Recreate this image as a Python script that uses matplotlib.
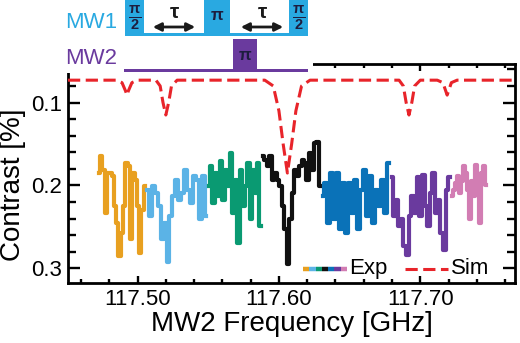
import numpy as np
import matplotlib
matplotlib.use("Agg")
import matplotlib.pyplot as plt
from matplotlib.patches import Rectangle, FancyArrowPatch

plt.rcParams['font.family'] = ['Liberation Sans', 'DejaVu Sans']
plt.rcParams['mathtext.fontset'] = 'custom'
plt.rcParams['mathtext.rm'] = 'Liberation Sans:bold'
plt.rcParams['mathtext.it'] = 'Liberation Sans:bold'

# ---------------- data ----------------
seg_colors = ['#E8A020', '#5BB3E6', '#0A9A72', '#111111', '#0A72B8', '#6A3A9E', '#D27DB3']
seg_edges = [117.4718, 117.5060, 117.5495, 117.5880, 117.6300, 117.6788, 117.7216, 117.7473]
exp_orange = [0.185, 0.165, 0.181, 0.233, 0.185, 0.185, 0.189, 0.225, 0.245, 0.285, 0.257,
              0.225, 0.173, 0.177, 0.265, 0.185, 0.193, 0.225, 0.282, 0.229, 0.201]
exp_sky = [0.205, 0.237, 0.201, 0.209, 0.225, 0.265, 0.245, 0.292, 0.237, 0.213, 0.193,
           0.217, 0.209, 0.181, 0.205, 0.221, 0.189, 0.193, 0.240, 0.189, 0.237]
exp_green = [0.201, 0.177, 0.221, 0.185, 0.213, 0.171, 0.217, 0.181, 0.201, 0.161, 0.233,
             0.193, 0.269, 0.181, 0.225, 0.201, 0.173, 0.241, 0.181, 0.209, 0.173, 0.249]
exp_black = [0.165, 0.169, 0.177, 0.165, 0.193, 0.185, 0.193, 0.201, 0.225, 0.253, 0.295,
             0.241, 0.209, 0.181, 0.189, 0.177, 0.169, 0.173, 0.193, 0.161, 0.181, 0.149,
             0.147, 0.201]
exp_blue = [0.213, 0.197, 0.245, 0.185, 0.241, 0.185, 0.253, 0.197, 0.257, 0.197, 0.233,
            0.193, 0.253, 0.205, 0.181, 0.237, 0.189, 0.245, 0.205, 0.225, 0.193, 0.233, 0.173]
exp_purple = [0.190, 0.237, 0.217, 0.249, 0.241, 0.273, 0.284, 0.237, 0.213, 0.233, 0.190,
              0.237, 0.187, 0.225, 0.249, 0.209, 0.185, 0.233, 0.217, 0.257, 0.278, 0.205, 0.190]
exp_pink = [0.213, 0.205, 0.197, 0.189, 0.209, 0.195, 0.177, 0.185, 0.205, 0.241, 0.195,
            0.213, 0.175, 0.197, 0.245, 0.185, 0.177, 0.199]
exp_segments = [exp_orange, exp_sky, exp_green, exp_black, exp_blue, exp_purple, exp_pink]

sim_freq = [117.4508, 117.485, 117.489, 117.4915, 117.4925, 117.4935, 117.496, 117.500,
            117.513, 117.516, 117.518, 117.520, 117.522, 117.524, 117.528,
            117.590, 117.596, 117.600, 117.603, 117.606, 117.609, 117.612, 117.616, 117.622,
            117.685, 117.688, 117.690, 117.692, 117.694, 117.696, 117.700,
            117.712, 117.716, 117.718, 117.719, 117.720, 117.722, 117.726, 117.767]
sim_contrast = [0.073, 0.073, 0.076, 0.086, 0.091, 0.086, 0.076, 0.073,
                0.073, 0.080, 0.100, 0.115, 0.100, 0.080, 0.073,
                0.073, 0.080, 0.110, 0.150, 0.185, 0.150, 0.110, 0.080, 0.073,
                0.073, 0.080, 0.100, 0.115, 0.100, 0.080, 0.073,
                0.073, 0.076, 0.086, 0.091, 0.086, 0.076, 0.073, 0.073]

xticks = [117.50, 117.60, 117.70]
xticklabels = ['117.50', '117.60', '117.70']
yticks = [0.1, 0.2, 0.3]
yticklabels = ['0.1', '0.2', '0.3']

# ---------------- figure ----------------
W, H = 520, 343
fig = plt.figure(figsize=(W / 100, H / 100), dpi=100)
ax = fig.add_axes([68 / W, 1 - 283 / H, (515 - 68) / W, (283 - 64) / H])

for i, (vals, c) in enumerate(zip(exp_segments, seg_colors)):
    f0, f1 = seg_edges[i], seg_edges[i + 1]
    step = (f1 - f0) / len(vals)
    fr = f0 + step * (np.arange(len(vals)) + 0.5)
    ax.plot(fr, vals, color=c, lw=3.0, drawstyle='steps-mid', zorder=3)

ax.plot(sim_freq, sim_contrast, color='#E8242A', lw=2.2, dashes=(4, 1.8), zorder=4)

ax.set_xlim(117.4508, 117.767)
ax.set_ylim(0.3176, 0.0535)
ax.set_xticks(xticks)
ax.set_xticklabels(xticklabels)
ax.set_yticks(yticks)
ax.set_yticklabels(yticklabels)
ax.set_xticks(np.arange(117.46, 117.77, 0.02), minor=True)
ax.set_yticks(np.arange(0.06, 0.32, 0.02), minor=True)
ax.tick_params(axis='both', which='both', direction='in', top=True, right=True,
               labelsize=16, width=1.7)
ax.tick_params(axis='y', which='major', length=8.5, pad=4)
ax.tick_params(axis='y', which='minor', length=5.5)
ax.tick_params(axis='x', which='major', length=5, pad=4)
ax.tick_params(axis='x', which='minor', length=3)
for s in ax.spines.values():
    s.set_linewidth(2)

ax.set_xlabel('MW2 Frequency [GHz]', fontsize=20, labelpad=1)
ax.set_ylabel('Contrast [%]', fontsize=20, va='center')
ax.yaxis.set_label_coords(-0.122, 0.45)

# legend (manual)
n = len(seg_colors)
x0, x1, yl = 0.526, 0.624, 0.064
for i, c in enumerate(seg_colors):
    ax.plot([x0 + (x1 - x0) * i / n, x0 + (x1 - x0) * (i + 1) / n], [yl, yl],
            color=c, lw=3.2, transform=ax.transAxes, solid_capstyle='butt', zorder=5)
ax.text(0.630, yl, 'Exp', transform=ax.transAxes, fontsize=16, va='center', ha='left')
ax.plot([0.754, 0.850], [yl, yl], color='#E8242A', lw=2.2, dashes=(4, 1.8),
        transform=ax.transAxes, zorder=5)
ax.text(0.856, yl, 'Sim', transform=ax.transAxes, fontsize=16, va='center', ha='left')

# ---------------- pulse diagram ----------------
def fx(px):
    return px / W

def fy(py):
    return 1 - py / H

def frect(x0p, y0p, x1p, y1p, color, z=6):
    fig.add_artist(Rectangle((fx(x0p), fy(y1p)), (x1p - x0p) / W, (y1p - y0p) / H,
                             transform=fig.transFigure, facecolor=color,
                             edgecolor='none', zorder=z))

cyan = '#29A9E1'
purple = '#6A3A9E'
dark = '#1d1d3f'

frect(55, 0, 313, 73, 'white', z=5)

fig.text(fx(91), fy(23), 'MW1', color=cyan, fontsize=16, ha='center', va='center', zorder=7)
fig.text(fx(91), fy(58), 'MW2', color=purple, fontsize=16, ha='center', va='center', zorder=7)

frect(125, 33, 308, 36, cyan)
for a, b in [(125, 144), (204, 230), (289, 308)]:
    frect(a, 0, b, 36, cyan)
for xc in [134.5, 298.5]:
    fig.text(fx(xc), fy(18), r'$\frac{\pi}{2}$', color=dark, fontsize=15,
             ha='center', va='center', zorder=7)
fig.text(fx(217), fy(16), r'$\pi$', color=dark, fontsize=12, ha='center', va='center', zorder=7)

for a, b in [(150, 198), (238, 286)]:
    fig.add_artist(FancyArrowPatch(
        (fx(a), fy(27)), (fx(b), fy(27)), transform=fig.transFigure,
        arrowstyle='<|-|>', mutation_scale=12, lw=2.0, color='#1a1a1a', zorder=7))
    fig.text(fx((a + b) / 2), fy(13), r'$\tau$', color='#1a1a1a', fontsize=15,
             ha='center', va='center', zorder=7)

frect(124, 69, 308, 72, purple)
frect(233, 39, 257, 72, purple)
fig.text(fx(245), fy(55), r'$\pi$', color=dark, fontsize=12, ha='center', va='center', zorder=7)

fig.savefig('out.png', dpi=100)
